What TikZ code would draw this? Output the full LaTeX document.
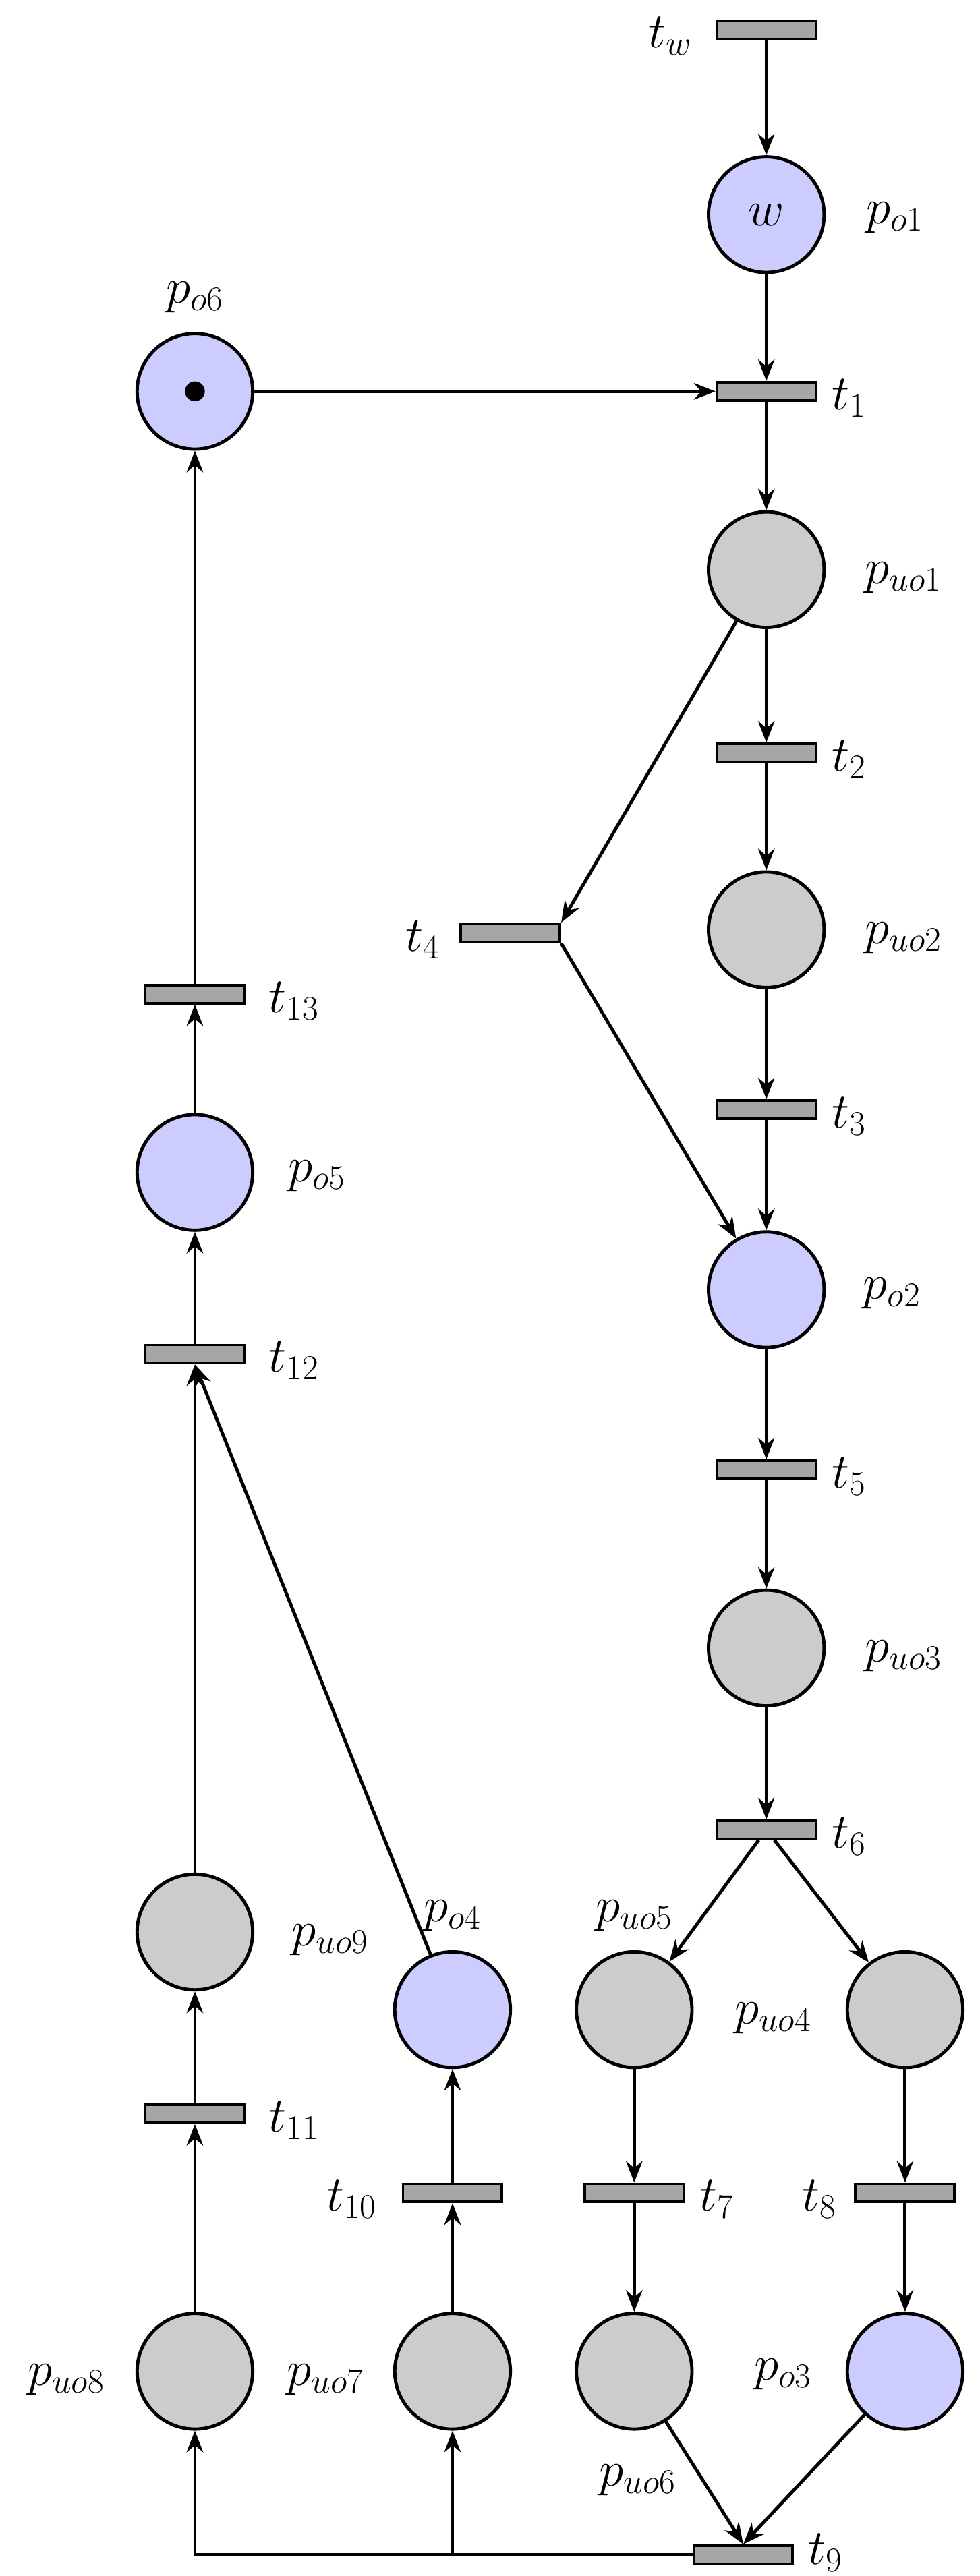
\RequirePackage{fix-cm}
\documentclass[tikz,border=0pt]{standalone}
\usetikzlibrary{arrows.meta}
\DeclareMathSizes{30}{30}{21}{15}
\begin{document}
\begin{tikzpicture}[x=1pt,y=-1pt,
  pl/.style={circle,draw,line width=2pt,minimum size=70pt,inner sep=0pt},
  g/.style={pl,fill=gray!40},
  b/.style={pl,fill=blue!20},
  tr/.style={rectangle,draw,line width=1.6pt,fill=gray!70,minimum width=60pt,minimum height=11pt,inner sep=0pt},
  lab/.style={},
  arr/.style={line width=2pt,-{Stealth[length=13pt,width=10pt]}},
  every node/.append style={font=\fontsize{30}{34}\selectfont}]
\useasboundingbox (0,0) rectangle (593,1560);
% transitions
\node[tr] (tw) at (464,18) {}; \node[lab] at (406,22) {$t_w$};
\node[tr] (t1) at (464,237) {}; \node[lab] at (514,241) {$t_1$};
\node[tr] (t2) at (464,456) {}; \node[lab] at (514,460) {$t_2$};
\node[tr] (t3) at (464,672) {}; \node[lab] at (514,676) {$t_3$};
\node[tr] (t4) at (309,565) {}; \node[lab] at (256,569) {$t_4$};
\node[tr] (t5) at (464,890) {}; \node[lab] at (514,894) {$t_5$};
\node[tr] (t6) at (464,1108) {}; \node[lab] at (514,1112) {$t_6$};
\node[tr] (t7) at (384,1328) {}; \node[lab] at (434,1332) {$t_7$};
\node[tr] (t8) at (548,1328) {}; \node[lab] at (496,1332) {$t_8$};
\node[tr] (t9) at (450,1547) {}; \node[lab] at (500,1546) {$t_9$};
\node[tr] (t10) at (274,1328) {}; \node[lab] at (213,1332) {$t_{10}$};
\node[tr] (t11) at (118,1280) {}; \node[lab] at (178,1284) {$t_{11}$};
\node[tr] (t12) at (118,820) {}; \node[lab] at (178,824) {$t_{12}$};
\node[tr] (t13) at (118,602) {}; \node[lab] at (178,606) {$t_{13}$};
% places
\node[b] (po1) at (464,130) {$w$}; \node[lab] at (542,132) {$p_{o1}$};
\node[b] (po6) at (118,237) {}; \fill (118,237) circle (6pt); \node[lab] at (118,180) {$p_{o6}$};
\node[g] (puo1) at (464,345) {}; \node[lab] at (547,350) {$p_{uo1}$};
\node[g] (puo2) at (464,563) {}; \node[lab] at (547,568) {$p_{uo2}$};
\node[b] (po2) at (464,781) {}; \node[lab] at (540,783) {$p_{o2}$};
\node[g] (puo3) at (464,998) {}; \node[lab] at (547,1003) {$p_{uo3}$};
\node[g] (puo5) at (384,1217) {}; \node[lab] at (384,1160) {$p_{uo5}$};
\node[g] (puo4) at (548,1217) {}; \node[lab] at (468,1222) {$p_{uo4}$};
\node[g] (puo6) at (384,1436) {}; \node[lab] at (386,1502) {$p_{uo6}$};
\node[b] (po3) at (548,1436) {}; \node[lab] at (474,1438) {$p_{o3}$};
\node[g] (puo8) at (118,1436) {}; \node[lab] at (40,1441) {$p_{uo8}$};
\node[g] (puo7) at (274,1436) {}; \node[lab] at (197,1441) {$p_{uo7}$};
\node[b] (po4) at (274,1217) {}; \node[lab] at (274,1160) {$p_{o4}$};
\node[g] (puo9) at (118,1170) {}; \node[lab] at (200,1175) {$p_{uo9}$};
\node[b] (po5) at (118,710) {}; \node[lab] at (192,712) {$p_{o5}$};
% arcs
\draw[arr] (tw) -- (po1);
\draw[arr] (po1) -- (t1);
\draw[arr] (po6) -- (t1);
\draw[arr] (t1) -- (puo1);
\draw[arr] (puo1) -- (t2);
\draw[arr] (t2) -- (puo2);
\draw[arr] (puo2) -- (t3);
\draw[arr] (t3) -- (po2);
\draw[arr] (puo1) -- (t4.north east);
\draw[arr] (t4.south east) -- (po2);
\draw[arr] (po2) -- (t5);
\draw[arr] (t5) -- (puo3);
\draw[arr] (puo3) -- (t6);
\draw[arr] (t6) -- (puo5);
\draw[arr] (t6) -- (puo4);
\draw[arr] (puo5) -- (t7);
\draw[arr] (puo4) -- (t8);
\draw[arr] (t7) -- (puo6);
\draw[arr] (t8) -- (po3);
\draw[arr] (puo6) -- (t9.north);
\draw[arr] (po3) -- (t9.north);
\coordinate (j) at (274,1547);
\draw[arr] (t9.west) -| (puo8);
\draw[arr] (j) -- (puo7);
\draw[arr] (puo7) -- (t10);
\draw[arr] (t10) -- (po4);
\draw[arr] (puo8) -- (t11);
\draw[arr] (t11) -- (puo9);
\draw[arr] (puo9) -- (t12);
\draw[arr] (po4) -- (t12.south);
\draw[arr] (t12) -- (po5);
\draw[arr] (po5) -- (t13);
\draw[arr] (t13) -- (po6);
\end{tikzpicture}
\end{document}
